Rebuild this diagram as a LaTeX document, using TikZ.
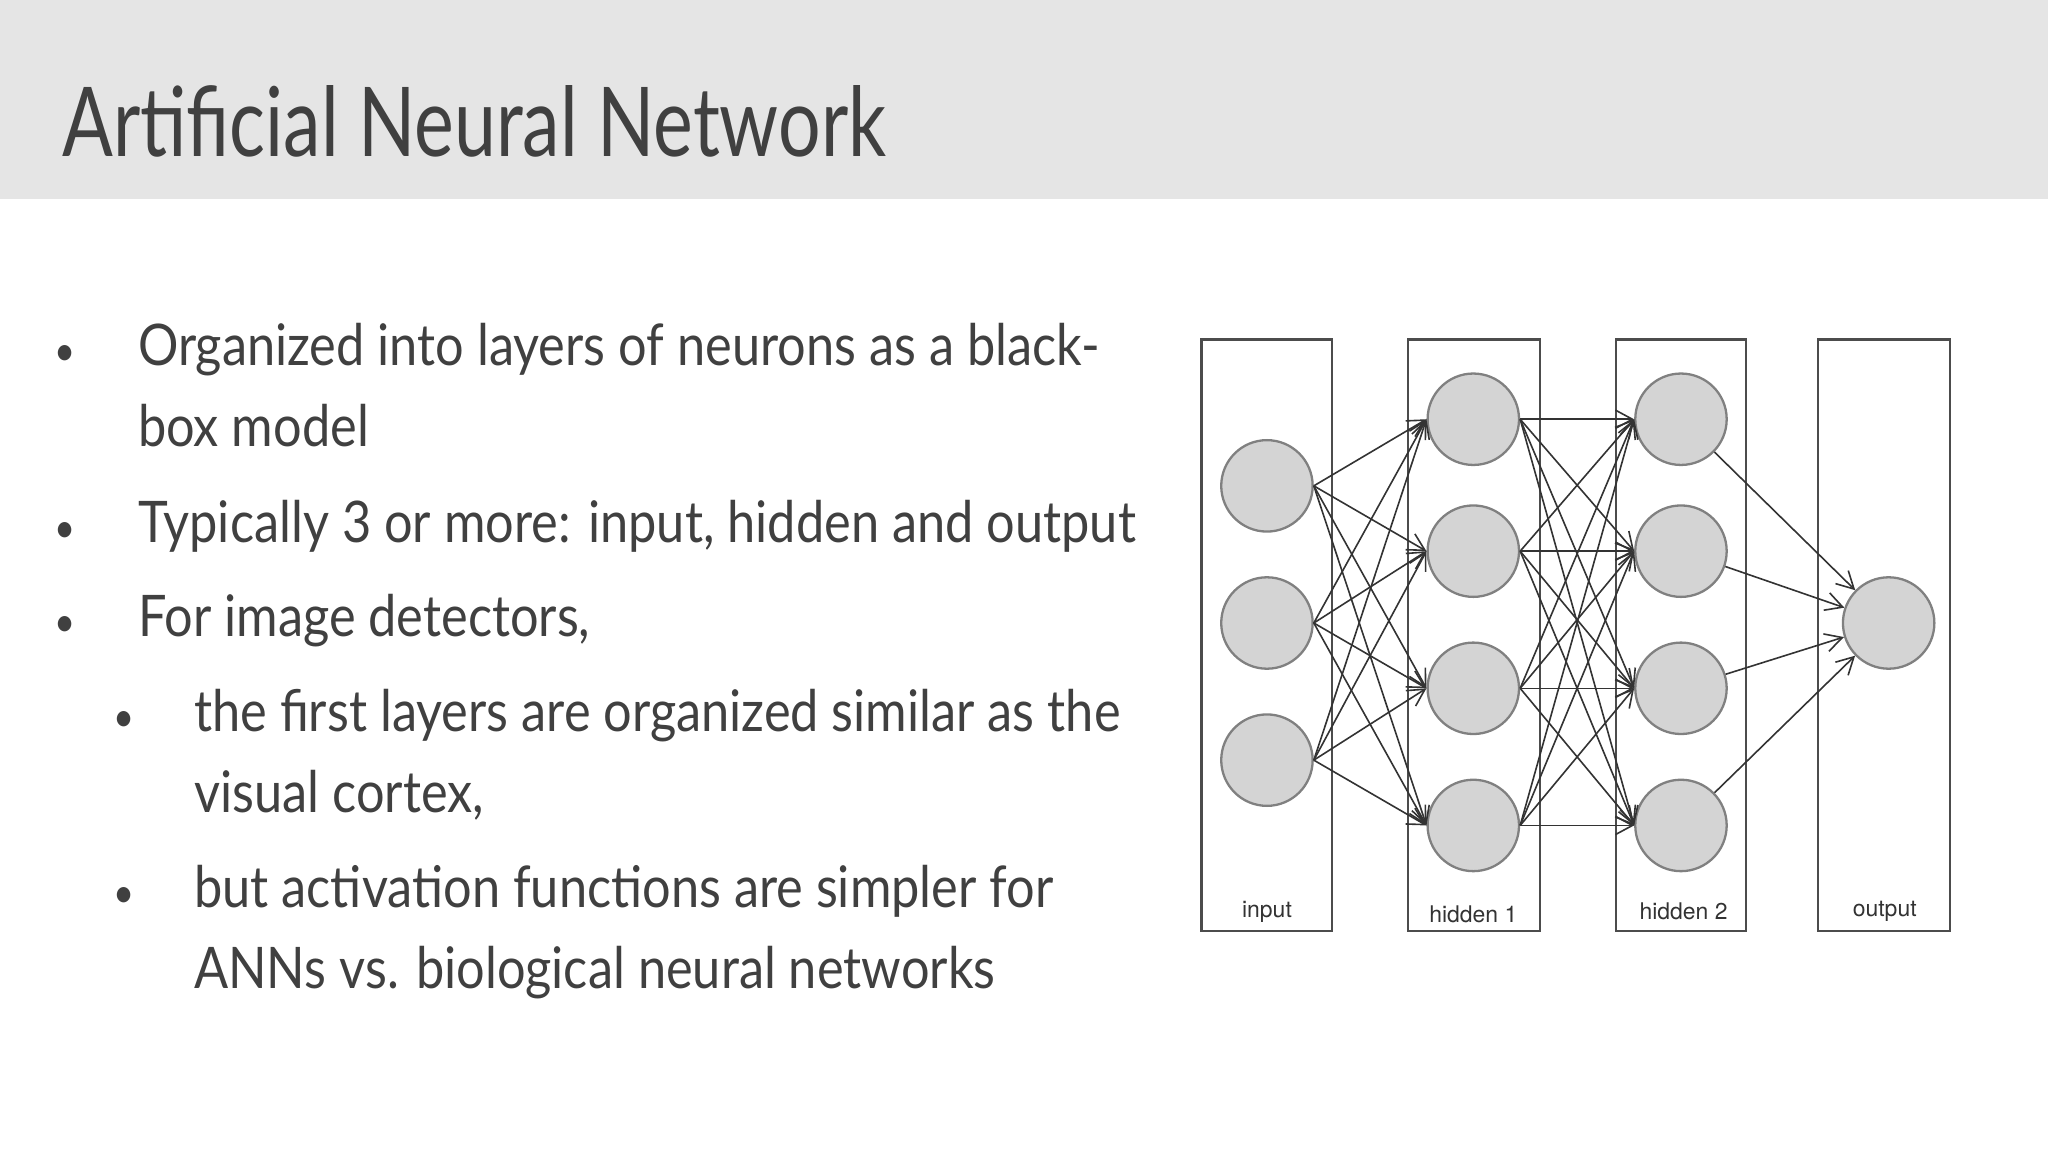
\documentclass[tikz,border=0pt]{standalone}
\usepackage{fontspec}
\setmainfont{Lato}[FakeStretch=0.88]
\newfontfamily\titlefont{Lato}[FakeStretch=0.78]
\newfontfamily\labfont{TeX Gyre Heros}
\usetikzlibrary{arrows.meta}
\begin{document}
\begin{tikzpicture}[x=0.1mm,y=-0.1mm,
  txt/.style={anchor=base west,inner sep=0pt,text=black!75,font=\fontsize{12.5pt}{14pt}\selectfont},
  bul/.style={anchor=base,inner sep=0pt,text=black!75,font=\fontsize{9pt}{14pt}\selectfont},
  layer/.style={draw=black!70,line width=0.5pt},
  neu/.style={circle,draw=black!50,fill=black!17,minimum size=7mm,inner sep=0pt,line width=0.5pt},
  lab/.style={inner sep=0pt,font=\labfont\fontsize{5pt}{6pt}\selectfont,text=black!80},
  con/.style={-{Straight Barb[length=1.3mm,width=1.4mm]},black!80,line width=0.35pt}]
\useasboundingbox (0,0) rectangle (1568,881);
\fill[black!10] (0,0) rectangle (1568,152);
\node[anchor=base west,inner sep=0pt,text=black!75,font=\titlefont\fontsize{21pt}{26pt}\selectfont] (title) at (47,120) {Artificial Neural Network};
\node[bul] (b1) at (50,280) {•};
\node[txt] (t1) at (105,280) {Organized into layers of neurons as a black-};
\node[txt] (t1b) at (105,342) {box model};
\node[bul] (b2) at (50,415) {•};
\node[txt] (t2) at (105,415) {Typically 3 or more: input, hidden and output};
\node[bul] (b3) at (50,487) {•};
\node[txt] (t3) at (105,487) {For image detectors,};
\node[bul] (b4) at (95,560) {•};
\node[txt] (t4) at (148,560) {the first layers are organized similar as the};
\node[txt] (t4b) at (148,622) {visual cortex,};
\node[bul] (b5) at (95,695) {•};
\node[txt] (t5) at (148,695) {but activation functions are simpler for};
\node[txt] (t5b) at (148,757) {ANNs vs. biological neural networks};
% layers
\draw[layer] (920,260) rectangle (1020,713);
\draw[layer] (1078,260) rectangle (1179,713);
\draw[layer] (1237,260) rectangle (1337,713);
\draw[layer] (1392,260) rectangle (1493,713);
\node[lab] (li) at (970,698) {input};
\node[lab] (lh1) at (1128,700) {hidden 1};
\node[lab] (lh2) at (1289,698) {hidden 2};
\node[lab] (lo) at (1443,698) {output};
\foreach \y [count=\k] in {372,477,582} \node[neu] (i\k) at (970,\y) {};
\foreach \y [count=\k] in {321,422,527,632} {\node[neu] (a\k) at (1128,\y) {}; \node[neu] (b\k) at (1287,\y) {};}
\node[neu] (o) at (1446,477) {};
\foreach \s in {1,2,3} \foreach \t in {1,2,3,4} \draw[con] (i\s.east) -- (a\t.west);
\foreach \s in {1,2,3,4} \foreach \t in {1,2,3,4} \draw[con] (a\s.east) -- (b\t.west);
\foreach \s in {1,2,3,4} \draw[con] (b\s) -- (o);
\end{tikzpicture}
\end{document}
